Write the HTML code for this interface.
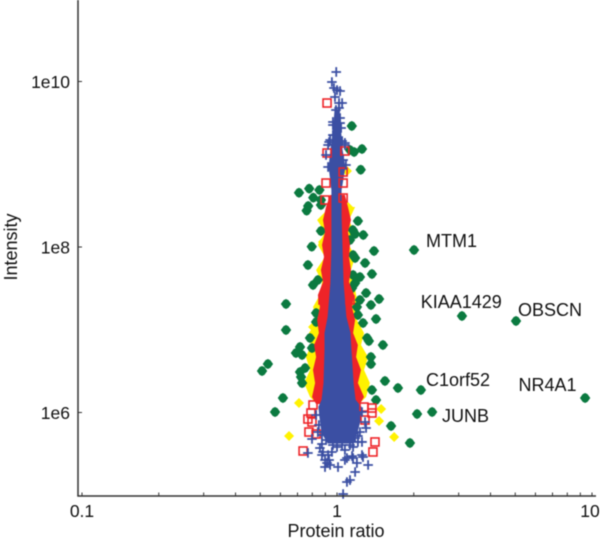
<!DOCTYPE html>
<html>
<head>
<meta charset="utf-8">
<style>
html,body{margin:0;padding:0;background:#fff;}
#chart{display:block;filter:blur(0.4px);}
text{font-family:"Liberation Sans",sans-serif;fill:#111;}
</style>
</head>
<body>
<svg id="chart" width="600" height="543" viewBox="0 0 600 543" xmlns="http://www.w3.org/2000/svg"></svg>
<script>
// All positional values are log10(protein ratio) and log10(intensity)
const xTickLabels = ["0.1", "1", "10"];
const xTickLogs = [-1, 0, 1];
const xMinorTicks = [0.1,0.2,0.3,0.4,0.5,0.6,0.7,0.8,0.9,1,2,3,4,5,6,7,8,9,10];
const yTickLabels = ["1e6", "1e8", "1e10"];
const yTickLogs = [6, 8, 10];

const greenRatio = [.058,.051,.067,.098,.093,-.149,-.109,-.069,-.093,-.063,-.063,-.113,-.119,.082,-.063,.062,.071,.103,.051,-.099,.145,.302,-.114,.071,.063,.110,.137,.063,.090,.071,-.075,-.094,.059,.114,.165,.090,-.200,.133,.078,-.082,.082,-.082,.153,.102,-.200,-.106,.118,.125,-.098,-.145,-.161,-.137,.180,.133,.133,-.271,-.294,-.125,-.145,-.141,-.137,.188,.239,.137,.329,-.212,.153,-.243,.314,.373,.212,.286,.490,.702,.973];
const greenIntensity = [9.462,9.172,9.148,9.184,8.934,8.656,8.705,8.689,8.596,8.568,8.508,8.495,8.439,8.314,8.193,8.205,8.157,8.145,8.085,8.004,7.952,7.964,7.782,7.867,7.903,7.807,7.674,7.662,7.637,7.565,7.601,7.541,7.505,7.444,7.372,7.360,7.311,7.299,7.275,7.202,7.178,7.094,7.130,7.082,6.997,6.900,6.900,6.864,6.779,6.792,6.719,6.695,6.816,6.671,6.586,6.586,6.502,6.538,6.489,6.429,6.356,6.381,6.296,6.272,6.272,6.175,6.151,6.006,5.982,6.006,5.837,5.631,7.166,7.106,6.175];

const yellowRatio = [-.149,-.188,.224,.165,.173,.039,.043,-.047,-.055,-.094];
const yellowIntensity = [6.115,5.716,5.704,5.897,6.042,8.918,8.483,8.338,8.060,7.033];

const redRatio = [-.039,-.039,.031,-.043,.024,.024,-.133,.149,.141,-.110,-.082,-.114,-.102,-.098,-.094,.106,.137,.137,.110,.051,-.055,-.047,.024];
const redIntensity = [9.740,9.136,9.160,8.773,8.773,8.906,5.535,5.644,5.523,5.764,5.740,5.921,5.994,5.885,6.091,6.066,6.054,5.994,5.909,7.360,7.360,8.568,8.592];

const blueRatio = [-.003,-.020,0,-.012,.012,-.008,.008,.020,-.004,.012,-.016,.016,-.016,-.031,.031,.024,.051,.071,.039,.122,.078,.102,.031,.004,-.039,-.047,-.031,-.114,-.067,-.098,-.059,.098,.063,0,.031,-.020,.082,-.075,.114,.059,-.055,-.035,-.027,.063,.098,.082,.039,-.016,.020,-.059,-.047,-.082,-.071,-.059,.090,.110,.098,.051,-.043,.071,.008,-.016,.012,-.027,.020,-.035,.031,-.035,.035,.024,-.043];
const blueIntensity = [10.115,9.994,9.897,9.921,9.885,9.813,9.740,9.740,9.656,9.559,9.511,9.438,9.353,9.269,9.257,5.015,5.184,5.281,5.160,5.366,5.390,5.462,5.426,5.341,5.390,5.341,5.426,5.511,5.571,5.680,5.619,5.644,5.583,5.583,5.547,5.523,5.716,5.764,5.813,5.473,5.523,5.486,5.366,5.450,5.486,5.644,5.450,5.607,5.607,5.486,5.426,5.970,5.849,5.728,5.764,5.885,6.006,5.607,5.668,5.692,9.680,9.474,9.498,9.293,9.281,9.233,9.233,8.967,8.991,9.051,9.112];

// Dense populations, given as ratio range at each intensity level
const blueBandIntensity = [9.656,9.474,9.172,8.967,8.689,8.362,7.964,7.565,7.154,6.961,6.755,6.356,6.151,6.066,5.946,5.752,5.631];
const blueBandLow = [-.008,-.012,-.024,-.031,-.020,-.020,-.020,-.024,-.035,-.047,-.047,-.051,-.059,-.071,-.067,-.059,-.035];
const blueBandHigh = [.008,.012,.020,.031,.016,.016,.020,.024,.035,.051,.055,.063,.071,.094,.094,.078,.063];
const redBandIntensity = [8.628,8.483,8.326,8.181,8.024,7.879,7.722,7.577,7.420,7.275,7.118,6.961,6.816,6.671,6.514,6.356,6.187,6.103];
const redBandLow = [-.027,-.043,-.055,-.047,-.059,-.051,-.063,-.055,-.075,-.067,-.078,-.071,-.090,-.082,-.094,-.086,-.098,-.082];
const redBandHigh = [.031,.043,.055,.043,.051,.047,.055,.047,.067,.059,.071,.063,.082,.075,.094,.082,.106,.090];
const yellowBandIntensity = [8.483,8.326,8.181,8.024,7.879,7.722,7.577,7.420,7.275,7.118,6.961,6.816,6.671,6.514,6.356,6.187,6.115];
const yellowBandLow = [-.027,-.078,-.047,-.075,-.047,-.082,-.059,-.067,-.094,-.075,-.110,-.102,-.122,-.106,-.129,-.106,-.082];
const yellowBandHigh = [.071,.047,.067,.047,.071,.055,.067,.075,.090,.078,.106,.094,.122,.106,.129,.114,.090];

const geneNames = ["MTM1","KIAA1429","OBSCN","C1orf52","NR4A1","JUNB"];
const geneLabelX = [426,420.7,518,426,518.5,442];
const geneLabelY = [247,308,316,386,391,422];

const svg = document.getElementById('chart');
const NS = 'http://www.w3.org/2000/svg';
const x = v => 337 + v * 255;
const y = v => 412.5 - (v - 6) * 82.75;
const BLUE = '#3b4fa3', RED = '#ee2428', YELLOW = '#fff200', GREEN = '#0b7a40', INK = '#333';

function mk(tag, attrs, parent) {
  const e = document.createElementNS(NS, tag);
  for (const k in attrs) e.setAttribute(k, attrs[k]);
  (parent || svg).appendChild(e);
  return e;
}
function bandPath(levels, low, high) {
  const left = levels.map((l, i) => x(low[i]).toFixed(1) + ',' + y(l).toFixed(1));
  const right = levels.map((l, i) => x(high[i]).toFixed(1) + ',' + y(l).toFixed(1)).reverse();
  return 'M' + left.concat(right).join('L') + 'Z';
}

// yellow band and points
const yb = mk('path', {d: bandPath(yellowBandIntensity, yellowBandLow, yellowBandHigh), fill: YELLOW});


yellowRatio.forEach((r, i) => {
  const cx = x(r), cy = y(yellowIntensity[i]);
  const d = mk('path', {d: `M${cx-5},${cy}L${cx},${cy-5}L${cx+5},${cy}L${cx},${cy+5}Z`, fill: YELLOW});
  
  
});

// green points, above the yellow population
greenRatio.forEach((r, i) => {
  const cx = x(r), cy = y(greenIntensity[i]);
  const c = mk('path', {d: `M${cx-5.2},${cy}L${cx-2.4},${cy-3.9}L${cx},${cy-5}L${cx+2.4},${cy-3.9}L${cx+5.2},${cy}L${cx+2.4},${cy+3.9}L${cx},${cy+5}L${cx-2.4},${cy+3.9}Z`, fill: GREEN});
  
  
});

// red band
const rb = mk('path', {d: bandPath(redBandIntensity, redBandLow, redBandHigh), fill: RED});



// blue band and pluses
const bb = mk('path', {d: bandPath(blueBandIntensity, blueBandLow, blueBandHigh), fill: BLUE, stroke: BLUE, 'stroke-width': 1});



redRatio.forEach((r, i) => {
  const s = mk('rect', {x: x(r) - 4, y: y(redIntensity[i]) - 4, width: 8, height: 8, fill: 'none', stroke: RED, 'stroke-width': 1.6});
  
  
});
blueRatio.forEach((r, i) => {
  const cx = x(r), cy = y(blueIntensity[i]);
  const p = mk('path', {d: `M${cx-4.8},${cy}H${cx+4.8}M${cx},${cy-4.8}V${cy+4.8}`, fill: 'none', stroke: BLUE, 'stroke-width': 1.8});
  
  
});

// axes
const yAxis = mk('line', {x1: 78, y1: 0, x2: 78, y2: 496, stroke: INK, 'stroke-width': 1.5});


const xAxis = mk('line', {x1: 77.3, y1: 496, x2: 596, y2: 496, stroke: INK, 'stroke-width': 1.5});



xMinorTicks.forEach(v => {
  const px = x(Math.log10(v));
  const t = mk('line', {x1: px, y1: 496, x2: px, y2: 492.5, stroke: INK, 'stroke-width': 1});
  
  
});
yTickLogs.forEach((v, i) => {
  const t = mk('line', {x1: 78, y1: y(v), x2: 82, y2: y(v), stroke: INK, 'stroke-width': 1});
  
  
  const l = mk('text', {x: 70, y: y(v) + 6.5, 'text-anchor': 'end', 'font-size': 17.5});
  l.textContent = yTickLabels[i];
  
  
});
xTickLogs.forEach((v, i) => {
  const l = mk('text', {x: Math.min(x(v), 590), y: 517, 'text-anchor': 'middle', 'font-size': 17.5});
  l.textContent = xTickLabels[i];
  
  
});

// axis titles
const xTitle = mk('text', {x: 336, y: 537, 'text-anchor': 'middle', 'font-size': 18});
xTitle.textContent = 'Protein ratio';


const yTitle = mk('text', {transform: 'translate(17,247) rotate(-90)', 'text-anchor': 'middle', 'font-size': 18});
yTitle.textContent = 'Intensity';



// gene labels
geneNames.forEach((g, i) => {
  const l = mk('text', {x: geneLabelX[i], y: geneLabelY[i], 'font-size': 18});
  l.textContent = g;
  
  
});
</script>
</body>
</html>
